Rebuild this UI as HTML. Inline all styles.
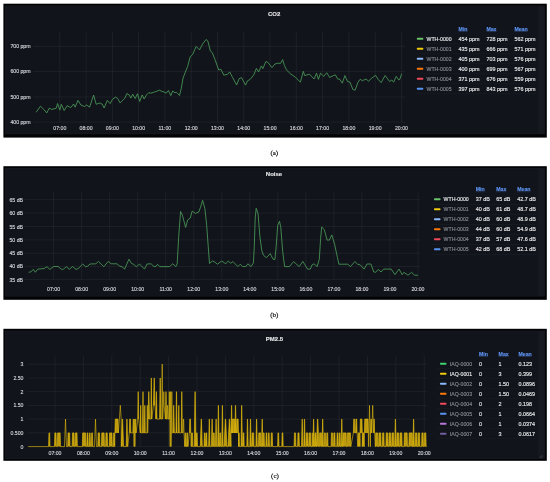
<!DOCTYPE html>
<html><head><meta charset="utf-8"><title>Sensor panels</title>
<style>html,body{margin:0;padding:0;background:#fff}svg{display:block;filter:blur(0.35px)}text{white-space:pre;stroke:currentColor;stroke-width:0.14px;paint-order:stroke fill}</style>
</head><body>
<svg width="550" height="482" viewBox="0 0 550 482">
<rect width="550" height="482" fill="#fff"/>
<rect x="3.4" y="3.7" width="543.4" height="133.9" fill="#020305"/>
<rect x="5.6" y="5.9" width="539.0" height="128.0" fill="#11141a" stroke="#1d2027" stroke-width="0.6"/>
<rect x="538.1" y="6.2" width="6.2" height="127.4" fill="#161920"/>
<path d="M59.8,32V122.1M86.1,32V122.1M112.4,32V122.1M138.6,32V122.1M164.9,32V122.1M191.2,32V122.1M217.5,32V122.1M243.8,32V122.1M270.0,32V122.1M296.3,32V122.1M322.6,32V122.1M348.9,32V122.1M375.2,32V122.1M401.4,32V122.1M33,46.3H405M33,71.4H405M33,97.0H405M33,122.1H405" stroke="#262a31" stroke-width="0.6" fill="none"/>
<text x="274.2" y="16" fill="#e4e5e8" color="#e4e5e8" font-size="6" font-weight="bold" text-anchor="middle" font-family='"Liberation Sans", sans-serif'>CO2</text>
<text x="30.6" y="48.199999999999996" fill="#d2d3d8" color="#d2d3d8" font-size="5.2" font-weight="normal" text-anchor="end" font-family='"Liberation Sans", sans-serif'>700 ppm</text>
<text x="30.6" y="73.30000000000001" fill="#d2d3d8" color="#d2d3d8" font-size="5.2" font-weight="normal" text-anchor="end" font-family='"Liberation Sans", sans-serif'>600 ppm</text>
<text x="30.6" y="98.9" fill="#d2d3d8" color="#d2d3d8" font-size="5.2" font-weight="normal" text-anchor="end" font-family='"Liberation Sans", sans-serif'>500 ppm</text>
<text x="30.6" y="124.0" fill="#d2d3d8" color="#d2d3d8" font-size="5.2" font-weight="normal" text-anchor="end" font-family='"Liberation Sans", sans-serif'>400 ppm</text>
<text x="59.8" y="130.2" fill="#d2d3d8" color="#d2d3d8" font-size="5.2" font-weight="normal" text-anchor="middle" font-family='"Liberation Sans", sans-serif'>07:00</text>
<text x="86.08" y="130.2" fill="#d2d3d8" color="#d2d3d8" font-size="5.2" font-weight="normal" text-anchor="middle" font-family='"Liberation Sans", sans-serif'>08:00</text>
<text x="112.36" y="130.2" fill="#d2d3d8" color="#d2d3d8" font-size="5.2" font-weight="normal" text-anchor="middle" font-family='"Liberation Sans", sans-serif'>09:00</text>
<text x="138.64" y="130.2" fill="#d2d3d8" color="#d2d3d8" font-size="5.2" font-weight="normal" text-anchor="middle" font-family='"Liberation Sans", sans-serif'>10:00</text>
<text x="164.92000000000002" y="130.2" fill="#d2d3d8" color="#d2d3d8" font-size="5.2" font-weight="normal" text-anchor="middle" font-family='"Liberation Sans", sans-serif'>11:00</text>
<text x="191.2" y="130.2" fill="#d2d3d8" color="#d2d3d8" font-size="5.2" font-weight="normal" text-anchor="middle" font-family='"Liberation Sans", sans-serif'>12:00</text>
<text x="217.48000000000002" y="130.2" fill="#d2d3d8" color="#d2d3d8" font-size="5.2" font-weight="normal" text-anchor="middle" font-family='"Liberation Sans", sans-serif'>13:00</text>
<text x="243.76" y="130.2" fill="#d2d3d8" color="#d2d3d8" font-size="5.2" font-weight="normal" text-anchor="middle" font-family='"Liberation Sans", sans-serif'>14:00</text>
<text x="270.04" y="130.2" fill="#d2d3d8" color="#d2d3d8" font-size="5.2" font-weight="normal" text-anchor="middle" font-family='"Liberation Sans", sans-serif'>15:00</text>
<text x="296.32" y="130.2" fill="#d2d3d8" color="#d2d3d8" font-size="5.2" font-weight="normal" text-anchor="middle" font-family='"Liberation Sans", sans-serif'>16:00</text>
<text x="322.6" y="130.2" fill="#d2d3d8" color="#d2d3d8" font-size="5.2" font-weight="normal" text-anchor="middle" font-family='"Liberation Sans", sans-serif'>17:00</text>
<text x="348.88000000000005" y="130.2" fill="#d2d3d8" color="#d2d3d8" font-size="5.2" font-weight="normal" text-anchor="middle" font-family='"Liberation Sans", sans-serif'>18:00</text>
<text x="375.16" y="130.2" fill="#d2d3d8" color="#d2d3d8" font-size="5.2" font-weight="normal" text-anchor="middle" font-family='"Liberation Sans", sans-serif'>19:00</text>
<text x="401.44" y="130.2" fill="#d2d3d8" color="#d2d3d8" font-size="5.2" font-weight="normal" text-anchor="middle" font-family='"Liberation Sans", sans-serif'>20:00</text>
<path d="M36.1,112.3 L40.5,106.2 L43.8,109.4 L46.7,113.0 L49.2,108.2 L51.8,109.4 L56.2,108.3 L57.6,103.5 L59.8,110.1 L61.3,104.3 L64.2,110.5 L67.1,105.7 L70.7,107.6 L73.6,104.0 L75.1,107.2 L78.0,100.3 L80.9,105.0 L84.5,106.5 L86.7,105.0 L89.6,107.2 L93.6,95.1 L96.2,104.3 L99.1,103.1 L100.5,103.3 L102.2,104.1 L104.1,108.0 L107.3,100.4 L110.2,103.6 L112.4,99.3 L115.7,97.1 L117.7,98.5 L120.1,102.9 L123.3,99.6 L124.7,98.5 L126.9,93.5 L129.1,94.9 L130.8,98.1 L132.7,94.2 L135.2,98.5 L137.5,93.7 L139.7,101.5 L142.2,94.9 L144.1,99.0 L146.5,94.9 L148.7,92.7 L150.9,93.2 L154.5,92.0 L156.7,91.3 L159.3,90.1 L161.8,91.3 L164.0,92.0 L166.2,93.2 L168.4,90.5 L170.8,95.6 L172.7,91.0 L174.9,92.7 L176.4,92.3 L179.5,95.5 L181.3,88.2 L183.1,78.0 L185.3,72.2 L187.7,66.4 L190.1,56.9 L192.5,54.7 L196.2,46.4 L199.5,49.9 L202.7,43.8 L206.1,39.5 L207.8,40.9 L210.4,51.1 L212.2,52.5 L215.1,59.8 L218.7,70.0 L220.9,69.3 L223.8,75.1 L227.5,74.4 L229.6,71.9 L232.5,77.3 L236.6,85.0 L239.1,78.7 L241.5,77.6 L245.5,85.1 L247.6,80.7 L249.9,79.6 L253.8,74.9 L256.4,68.4 L258.6,72.0 L261.4,65.9 L262.8,68.7 L265.9,61.5 L267.6,62.1 L272.0,67.6 L274.9,64.0 L277.5,63.3 L280.7,63.3 L282.6,59.6 L284.4,65.5 L286.5,69.8 L290.2,73.7 L295.3,77.1 L300.4,82.2 L303.3,71.3 L304.7,75.6 L309.5,74.2 L314.1,79.0 L316.5,73.2 L318.4,79.3 L320.5,73.2 L323.8,76.4 L326.7,72.7 L329.6,77.5 L333.3,75.6 L335.5,74.9 L337.6,79.0 L339.8,79.3 L342.3,83.2 L344.9,75.6 L347.5,81.5 L350.0,82.2 L352.9,89.5 L355.1,90.2 L358.0,82.2 L360.2,79.3 L362.4,80.7 L366.0,79.0 L368.6,81.2 L371.8,78.1 L375.5,75.3 L378.1,79.3 L381.1,82.6 L385.1,75.5 L387.8,79.0 L389.6,81.5 L391.8,80.0 L393.6,82.2 L396.2,76.4 L398.8,80.0 L399.8,79.3 L401.7,73.7" stroke="#4a9a58" stroke-width="0.85" fill="none" stroke-linejoin="round"/>
<text x="458.6" y="30.8" fill="#5f95f6" color="#5f95f6" font-size="5.2" font-weight="bold" text-anchor="start" font-family='"Liberation Sans", sans-serif'>Min</text>
<rect x="458.6" y="31.5" width="9.0" height="0.5" fill="#5f95f6" opacity="0.45"/>
<text x="486.4" y="30.8" fill="#5f95f6" color="#5f95f6" font-size="5.2" font-weight="bold" text-anchor="start" font-family='"Liberation Sans", sans-serif'>Max</text>
<rect x="486.4" y="31.5" width="10.2" height="0.5" fill="#5f95f6" opacity="0.45"/>
<text x="514.4" y="30.8" fill="#5f95f6" color="#5f95f6" font-size="5.2" font-weight="bold" text-anchor="start" font-family='"Liberation Sans", sans-serif'>Mean</text>
<rect x="514.4" y="31.5" width="13.3" height="0.5" fill="#5f95f6" opacity="0.45"/>
<rect x="413.8" y="43.599999999999994" width="123.7" height="0.5" fill="#1c2028"/>
<rect x="416.8" y="37.8" width="6.5" height="2" rx="0.8" fill="#69c46a"/>
<text x="426.5" y="40.599999999999994" fill="#e6e7ea" color="#e6e7ea" font-size="5.2" font-weight="normal" text-anchor="start" font-family='"Liberation Sans", sans-serif'>WTH-0000</text>
<text x="458.6" y="40.599999999999994" fill="#e8e9ec" color="#e8e9ec" font-size="5.4" font-weight="normal" text-anchor="start" font-family='"Liberation Sans", sans-serif'>454 ppm</text>
<text x="486.4" y="40.599999999999994" fill="#e8e9ec" color="#e8e9ec" font-size="5.4" font-weight="normal" text-anchor="start" font-family='"Liberation Sans", sans-serif'>728 ppm</text>
<text x="514.4" y="40.599999999999994" fill="#e8e9ec" color="#e8e9ec" font-size="5.4" font-weight="normal" text-anchor="start" font-family='"Liberation Sans", sans-serif'>562 ppm</text>
<rect x="413.8" y="53.599999999999994" width="123.7" height="0.5" fill="#1c2028"/>
<rect x="416.8" y="47.8" width="6.5" height="2" rx="0.8" fill="#f2cc0c"/>
<text x="426.5" y="50.599999999999994" fill="#858992" color="#858992" font-size="5.2" font-weight="normal" text-anchor="start" font-family='"Liberation Sans", sans-serif'>WTH-0001</text>
<text x="458.6" y="50.599999999999994" fill="#e8e9ec" color="#e8e9ec" font-size="5.4" font-weight="normal" text-anchor="start" font-family='"Liberation Sans", sans-serif'>435 ppm</text>
<text x="486.4" y="50.599999999999994" fill="#e8e9ec" color="#e8e9ec" font-size="5.4" font-weight="normal" text-anchor="start" font-family='"Liberation Sans", sans-serif'>666 ppm</text>
<text x="514.4" y="50.599999999999994" fill="#e8e9ec" color="#e8e9ec" font-size="5.4" font-weight="normal" text-anchor="start" font-family='"Liberation Sans", sans-serif'>571 ppm</text>
<rect x="413.8" y="63.599999999999994" width="123.7" height="0.5" fill="#1c2028"/>
<rect x="416.8" y="57.8" width="6.5" height="2" rx="0.8" fill="#8ab8ff"/>
<text x="426.5" y="60.599999999999994" fill="#858992" color="#858992" font-size="5.2" font-weight="normal" text-anchor="start" font-family='"Liberation Sans", sans-serif'>WTH-0002</text>
<text x="458.6" y="60.599999999999994" fill="#e8e9ec" color="#e8e9ec" font-size="5.4" font-weight="normal" text-anchor="start" font-family='"Liberation Sans", sans-serif'>405 ppm</text>
<text x="486.4" y="60.599999999999994" fill="#e8e9ec" color="#e8e9ec" font-size="5.4" font-weight="normal" text-anchor="start" font-family='"Liberation Sans", sans-serif'>703 ppm</text>
<text x="514.4" y="60.599999999999994" fill="#e8e9ec" color="#e8e9ec" font-size="5.4" font-weight="normal" text-anchor="start" font-family='"Liberation Sans", sans-serif'>576 ppm</text>
<rect x="413.8" y="73.6" width="123.7" height="0.5" fill="#1c2028"/>
<rect x="416.8" y="67.8" width="6.5" height="2" rx="0.8" fill="#ff780a"/>
<text x="426.5" y="70.6" fill="#858992" color="#858992" font-size="5.2" font-weight="normal" text-anchor="start" font-family='"Liberation Sans", sans-serif'>WTH-0003</text>
<text x="458.6" y="70.6" fill="#e8e9ec" color="#e8e9ec" font-size="5.4" font-weight="normal" text-anchor="start" font-family='"Liberation Sans", sans-serif'>400 ppm</text>
<text x="486.4" y="70.6" fill="#e8e9ec" color="#e8e9ec" font-size="5.4" font-weight="normal" text-anchor="start" font-family='"Liberation Sans", sans-serif'>699 ppm</text>
<text x="514.4" y="70.6" fill="#e8e9ec" color="#e8e9ec" font-size="5.4" font-weight="normal" text-anchor="start" font-family='"Liberation Sans", sans-serif'>567 ppm</text>
<rect x="413.8" y="83.6" width="123.7" height="0.5" fill="#1c2028"/>
<rect x="416.8" y="77.8" width="6.5" height="2" rx="0.8" fill="#f2495c"/>
<text x="426.5" y="80.6" fill="#858992" color="#858992" font-size="5.2" font-weight="normal" text-anchor="start" font-family='"Liberation Sans", sans-serif'>WTH-0004</text>
<text x="458.6" y="80.6" fill="#e8e9ec" color="#e8e9ec" font-size="5.4" font-weight="normal" text-anchor="start" font-family='"Liberation Sans", sans-serif'>371 ppm</text>
<text x="486.4" y="80.6" fill="#e8e9ec" color="#e8e9ec" font-size="5.4" font-weight="normal" text-anchor="start" font-family='"Liberation Sans", sans-serif'>676 ppm</text>
<text x="514.4" y="80.6" fill="#e8e9ec" color="#e8e9ec" font-size="5.4" font-weight="normal" text-anchor="start" font-family='"Liberation Sans", sans-serif'>559 ppm</text>
<rect x="413.8" y="93.6" width="123.7" height="0.5" fill="#1c2028"/>
<rect x="416.8" y="87.8" width="6.5" height="2" rx="0.8" fill="#5794f2"/>
<text x="426.5" y="90.6" fill="#858992" color="#858992" font-size="5.2" font-weight="normal" text-anchor="start" font-family='"Liberation Sans", sans-serif'>WTH-0005</text>
<text x="458.6" y="90.6" fill="#e8e9ec" color="#e8e9ec" font-size="5.4" font-weight="normal" text-anchor="start" font-family='"Liberation Sans", sans-serif'>397 ppm</text>
<text x="486.4" y="90.6" fill="#e8e9ec" color="#e8e9ec" font-size="5.4" font-weight="normal" text-anchor="start" font-family='"Liberation Sans", sans-serif'>843 ppm</text>
<text x="514.4" y="90.6" fill="#e8e9ec" color="#e8e9ec" font-size="5.4" font-weight="normal" text-anchor="start" font-family='"Liberation Sans", sans-serif'>576 ppm</text>
<text x="274.3" y="154.6" fill="#000" color="#000" font-size="7" font-weight="normal" text-anchor="middle" font-family='"Liberation Serif", serif'>(a)</text>
<rect x="3.4" y="166.2" width="543.4" height="133.6" fill="#020305"/>
<rect x="5.6" y="168.39999999999998" width="539.0" height="127.7" fill="#11141a" stroke="#1d2027" stroke-width="0.6"/>
<rect x="538.1" y="168.7" width="6.2" height="127.1" fill="#161920"/>
<path d="M53.6,191.8V279.6M81.6,191.8V279.6M109.7,191.8V279.6M137.7,191.8V279.6M165.7,191.8V279.6M193.8,191.8V279.6M221.8,191.8V279.6M249.8,191.8V279.6M277.8,191.8V279.6M305.9,191.8V279.6M333.9,191.8V279.6M361.9,191.8V279.6M390.0,191.8V279.6M418.0,191.8V279.6M24.2,199.7H420.5M24.2,213.1H420.5M24.2,226.6H420.5M24.2,239.9H420.5M24.2,253.2H420.5M24.2,266.4H420.5M24.2,279.6H420.5" stroke="#262a31" stroke-width="0.6" fill="none"/>
<text x="274" y="176.4" fill="#e4e5e8" color="#e4e5e8" font-size="6" font-weight="bold" text-anchor="middle" font-family='"Liberation Sans", sans-serif'>Noise</text>
<text x="23" y="201.6" fill="#d2d3d8" color="#d2d3d8" font-size="5.2" font-weight="normal" text-anchor="end" font-family='"Liberation Sans", sans-serif'>65 dB</text>
<text x="23" y="215.0" fill="#d2d3d8" color="#d2d3d8" font-size="5.2" font-weight="normal" text-anchor="end" font-family='"Liberation Sans", sans-serif'>60 dB</text>
<text x="23" y="228.5" fill="#d2d3d8" color="#d2d3d8" font-size="5.2" font-weight="normal" text-anchor="end" font-family='"Liberation Sans", sans-serif'>55 dB</text>
<text x="23" y="241.8" fill="#d2d3d8" color="#d2d3d8" font-size="5.2" font-weight="normal" text-anchor="end" font-family='"Liberation Sans", sans-serif'>50 dB</text>
<text x="23" y="255.1" fill="#d2d3d8" color="#d2d3d8" font-size="5.2" font-weight="normal" text-anchor="end" font-family='"Liberation Sans", sans-serif'>45 dB</text>
<text x="23" y="268.29999999999995" fill="#d2d3d8" color="#d2d3d8" font-size="5.2" font-weight="normal" text-anchor="end" font-family='"Liberation Sans", sans-serif'>40 dB</text>
<text x="23" y="281.5" fill="#d2d3d8" color="#d2d3d8" font-size="5.2" font-weight="normal" text-anchor="end" font-family='"Liberation Sans", sans-serif'>35 dB</text>
<text x="53.6" y="290.5" fill="#d2d3d8" color="#d2d3d8" font-size="5.2" font-weight="normal" text-anchor="middle" font-family='"Liberation Sans", sans-serif'>07:00</text>
<text x="81.63" y="290.5" fill="#d2d3d8" color="#d2d3d8" font-size="5.2" font-weight="normal" text-anchor="middle" font-family='"Liberation Sans", sans-serif'>08:00</text>
<text x="109.66" y="290.5" fill="#d2d3d8" color="#d2d3d8" font-size="5.2" font-weight="normal" text-anchor="middle" font-family='"Liberation Sans", sans-serif'>09:00</text>
<text x="137.69" y="290.5" fill="#d2d3d8" color="#d2d3d8" font-size="5.2" font-weight="normal" text-anchor="middle" font-family='"Liberation Sans", sans-serif'>10:00</text>
<text x="165.72" y="290.5" fill="#d2d3d8" color="#d2d3d8" font-size="5.2" font-weight="normal" text-anchor="middle" font-family='"Liberation Sans", sans-serif'>11:00</text>
<text x="193.75" y="290.5" fill="#d2d3d8" color="#d2d3d8" font-size="5.2" font-weight="normal" text-anchor="middle" font-family='"Liberation Sans", sans-serif'>12:00</text>
<text x="221.78" y="290.5" fill="#d2d3d8" color="#d2d3d8" font-size="5.2" font-weight="normal" text-anchor="middle" font-family='"Liberation Sans", sans-serif'>13:00</text>
<text x="249.81" y="290.5" fill="#d2d3d8" color="#d2d3d8" font-size="5.2" font-weight="normal" text-anchor="middle" font-family='"Liberation Sans", sans-serif'>14:00</text>
<text x="277.84000000000003" y="290.5" fill="#d2d3d8" color="#d2d3d8" font-size="5.2" font-weight="normal" text-anchor="middle" font-family='"Liberation Sans", sans-serif'>15:00</text>
<text x="305.87" y="290.5" fill="#d2d3d8" color="#d2d3d8" font-size="5.2" font-weight="normal" text-anchor="middle" font-family='"Liberation Sans", sans-serif'>16:00</text>
<text x="333.90000000000003" y="290.5" fill="#d2d3d8" color="#d2d3d8" font-size="5.2" font-weight="normal" text-anchor="middle" font-family='"Liberation Sans", sans-serif'>17:00</text>
<text x="361.93000000000006" y="290.5" fill="#d2d3d8" color="#d2d3d8" font-size="5.2" font-weight="normal" text-anchor="middle" font-family='"Liberation Sans", sans-serif'>18:00</text>
<text x="389.96000000000004" y="290.5" fill="#d2d3d8" color="#d2d3d8" font-size="5.2" font-weight="normal" text-anchor="middle" font-family='"Liberation Sans", sans-serif'>19:00</text>
<text x="417.99" y="290.5" fill="#d2d3d8" color="#d2d3d8" font-size="5.2" font-weight="normal" text-anchor="middle" font-family='"Liberation Sans", sans-serif'>20:00</text>
<path d="M28.7,272.3 L30.9,271.8 L33.4,269.4 L35.3,272.3 L37.7,269.1 L44.0,268.6 L46.9,266.7 L49.8,269.4 L53.7,266.5 L58.1,266.5 L61.5,269.4 L63.6,269.1 L66.3,266.7 L69.5,269.4 L72.4,266.5 L76.0,269.4 L78.2,268.6 L82.8,264.0 L85.5,266.7 L87.6,266.2 L90.1,264.0 L95.8,263.8 L98.4,261.4 L103.8,266.7 L108.2,261.4 L111.1,263.8 L116.9,263.8 L119.8,266.2 L122.0,266.7 L124.6,269.1 L129.0,259.2 L131.5,263.5 L133.6,264.3 L136.3,266.7 L139.5,264.0 L144.5,269.1 L147.0,264.0 L151.1,263.8 L154.0,266.7 L156.2,266.2 L157.6,264.3 L159.8,266.7 L169.7,266.6 L172.7,263.8 L175.9,266.6 L177.2,263.8 L178.7,236.7 L180.6,211.5 L182.4,215.2 L185.6,227.4 L187.7,219.9 L190.3,218.0 L192.1,211.1 L195.5,213.4 L198.7,212.1 L200.7,206.8 L202.6,200.3 L204.9,208.7 L206.7,225.5 L208.2,246.1 L209.5,263.5 L212.3,261.0 L214.2,261.6 L217.4,264.2 L221.7,261.0 L225.8,263.8 L228.2,261.0 L230.7,263.3 L232.9,261.6 L237.9,266.6 L240.3,264.2 L242.7,266.6 L245.9,266.6 L247.8,263.8 L251.1,266.6 L253.4,262.9 L254.3,246.1 L255.2,218.0 L256.2,208.3 L258.0,213.4 L259.9,236.7 L261.8,250.7 L263.6,255.4 L266.4,257.7 L270.2,253.6 L273.0,259.2 L274.9,259.5 L276.2,246.1 L277.7,225.5 L279.5,221.2 L280.8,227.4 L282.7,251.7 L284.6,266.6 L289.4,266.6 L293.6,261.6 L299.2,266.6 L302.9,261.4 L307.5,269.1 L310.3,269.1 L312.1,264.8 L314.0,263.8 L317.2,266.6 L319.3,259.2 L320.6,238.6 L321.7,227.0 L324.3,229.6 L327.1,240.1 L329.3,240.1 L331.8,234.9 L334.6,244.2 L337.4,257.3 L338.9,264.2 L347.7,264.2 L350.5,266.6 L354.8,261.6 L357.6,264.2 L360.2,264.8 L364.1,269.1 L367.0,264.0 L370.9,264.0 L373.8,272.0 L375.7,272.3 L378.2,269.4 L381.1,272.0 L383.6,269.1 L391.3,269.1 L394.9,274.7 L399.0,269.1 L402.2,274.7 L403.9,272.3 L408.0,275.2 L411.6,272.3 L414.5,275.2 L417.9,275.2" stroke="#4a9a58" stroke-width="0.85" fill="none" stroke-linejoin="round"/>
<text x="475.7" y="190.9" fill="#5f95f6" color="#5f95f6" font-size="5.2" font-weight="bold" text-anchor="start" font-family='"Liberation Sans", sans-serif'>Min</text>
<rect x="475.7" y="191.6" width="9.0" height="0.5" fill="#5f95f6" opacity="0.45"/>
<text x="496.2" y="190.9" fill="#5f95f6" color="#5f95f6" font-size="5.2" font-weight="bold" text-anchor="start" font-family='"Liberation Sans", sans-serif'>Max</text>
<rect x="496.2" y="191.6" width="10.2" height="0.5" fill="#5f95f6" opacity="0.45"/>
<text x="517.2" y="190.9" fill="#5f95f6" color="#5f95f6" font-size="5.2" font-weight="bold" text-anchor="start" font-family='"Liberation Sans", sans-serif'>Mean</text>
<rect x="517.2" y="191.6" width="13.3" height="0.5" fill="#5f95f6" opacity="0.45"/>
<rect x="431" y="204.0" width="106.5" height="0.5" fill="#1c2028"/>
<rect x="434" y="198.2" width="6.5" height="2" rx="0.8" fill="#69c46a"/>
<text x="443.6" y="201.0" fill="#e6e7ea" color="#e6e7ea" font-size="5.2" font-weight="normal" text-anchor="start" font-family='"Liberation Sans", sans-serif'>WTH-0000</text>
<text x="475.7" y="201.0" fill="#e8e9ec" color="#e8e9ec" font-size="5.4" font-weight="normal" text-anchor="start" font-family='"Liberation Sans", sans-serif'>37 dB</text>
<text x="496.2" y="201.0" fill="#e8e9ec" color="#e8e9ec" font-size="5.4" font-weight="normal" text-anchor="start" font-family='"Liberation Sans", sans-serif'>65 dB</text>
<text x="517.2" y="201.0" fill="#e8e9ec" color="#e8e9ec" font-size="5.4" font-weight="normal" text-anchor="start" font-family='"Liberation Sans", sans-serif'>42.7 dB</text>
<rect x="431" y="214.0" width="106.5" height="0.5" fill="#1c2028"/>
<rect x="434" y="208.2" width="6.5" height="2" rx="0.8" fill="#f2cc0c"/>
<text x="443.6" y="211.0" fill="#858992" color="#858992" font-size="5.2" font-weight="normal" text-anchor="start" font-family='"Liberation Sans", sans-serif'>WTH-0001</text>
<text x="475.7" y="211.0" fill="#e8e9ec" color="#e8e9ec" font-size="5.4" font-weight="normal" text-anchor="start" font-family='"Liberation Sans", sans-serif'>40 dB</text>
<text x="496.2" y="211.0" fill="#e8e9ec" color="#e8e9ec" font-size="5.4" font-weight="normal" text-anchor="start" font-family='"Liberation Sans", sans-serif'>61 dB</text>
<text x="517.2" y="211.0" fill="#e8e9ec" color="#e8e9ec" font-size="5.4" font-weight="normal" text-anchor="start" font-family='"Liberation Sans", sans-serif'>48.7 dB</text>
<rect x="431" y="224.0" width="106.5" height="0.5" fill="#1c2028"/>
<rect x="434" y="218.2" width="6.5" height="2" rx="0.8" fill="#8ab8ff"/>
<text x="443.6" y="221.0" fill="#858992" color="#858992" font-size="5.2" font-weight="normal" text-anchor="start" font-family='"Liberation Sans", sans-serif'>WTH-0002</text>
<text x="475.7" y="221.0" fill="#e8e9ec" color="#e8e9ec" font-size="5.4" font-weight="normal" text-anchor="start" font-family='"Liberation Sans", sans-serif'>40 dB</text>
<text x="496.2" y="221.0" fill="#e8e9ec" color="#e8e9ec" font-size="5.4" font-weight="normal" text-anchor="start" font-family='"Liberation Sans", sans-serif'>60 dB</text>
<text x="517.2" y="221.0" fill="#e8e9ec" color="#e8e9ec" font-size="5.4" font-weight="normal" text-anchor="start" font-family='"Liberation Sans", sans-serif'>48.9 dB</text>
<rect x="431" y="234.0" width="106.5" height="0.5" fill="#1c2028"/>
<rect x="434" y="228.2" width="6.5" height="2" rx="0.8" fill="#ff780a"/>
<text x="443.6" y="231.0" fill="#858992" color="#858992" font-size="5.2" font-weight="normal" text-anchor="start" font-family='"Liberation Sans", sans-serif'>WTH-0003</text>
<text x="475.7" y="231.0" fill="#e8e9ec" color="#e8e9ec" font-size="5.4" font-weight="normal" text-anchor="start" font-family='"Liberation Sans", sans-serif'>44 dB</text>
<text x="496.2" y="231.0" fill="#e8e9ec" color="#e8e9ec" font-size="5.4" font-weight="normal" text-anchor="start" font-family='"Liberation Sans", sans-serif'>60 dB</text>
<text x="517.2" y="231.0" fill="#e8e9ec" color="#e8e9ec" font-size="5.4" font-weight="normal" text-anchor="start" font-family='"Liberation Sans", sans-serif'>54.9 dB</text>
<rect x="431" y="244.0" width="106.5" height="0.5" fill="#1c2028"/>
<rect x="434" y="238.2" width="6.5" height="2" rx="0.8" fill="#f2495c"/>
<text x="443.6" y="241.0" fill="#858992" color="#858992" font-size="5.2" font-weight="normal" text-anchor="start" font-family='"Liberation Sans", sans-serif'>WTH-0004</text>
<text x="475.7" y="241.0" fill="#e8e9ec" color="#e8e9ec" font-size="5.4" font-weight="normal" text-anchor="start" font-family='"Liberation Sans", sans-serif'>37 dB</text>
<text x="496.2" y="241.0" fill="#e8e9ec" color="#e8e9ec" font-size="5.4" font-weight="normal" text-anchor="start" font-family='"Liberation Sans", sans-serif'>57 dB</text>
<text x="517.2" y="241.0" fill="#e8e9ec" color="#e8e9ec" font-size="5.4" font-weight="normal" text-anchor="start" font-family='"Liberation Sans", sans-serif'>47.6 dB</text>
<rect x="431" y="254.0" width="106.5" height="0.5" fill="#1c2028"/>
<rect x="434" y="248.2" width="6.5" height="2" rx="0.8" fill="#5794f2"/>
<text x="443.6" y="251.0" fill="#858992" color="#858992" font-size="5.2" font-weight="normal" text-anchor="start" font-family='"Liberation Sans", sans-serif'>WTH-0005</text>
<text x="475.7" y="251.0" fill="#e8e9ec" color="#e8e9ec" font-size="5.4" font-weight="normal" text-anchor="start" font-family='"Liberation Sans", sans-serif'>42 dB</text>
<text x="496.2" y="251.0" fill="#e8e9ec" color="#e8e9ec" font-size="5.4" font-weight="normal" text-anchor="start" font-family='"Liberation Sans", sans-serif'>68 dB</text>
<text x="517.2" y="251.0" fill="#e8e9ec" color="#e8e9ec" font-size="5.4" font-weight="normal" text-anchor="start" font-family='"Liberation Sans", sans-serif'>52.1 dB</text>
<text x="274.3" y="317" fill="#000" color="#000" font-size="7" font-weight="normal" text-anchor="middle" font-family='"Liberation Serif", serif'>(b)</text>
<rect x="3.4" y="328.8" width="543.4" height="132.0" fill="#020305"/>
<rect x="5.6" y="331.0" width="539.0" height="127.5" fill="#11141a" stroke="#1d2027" stroke-width="0.6"/>
<rect x="538.1" y="331.3" width="6.2" height="126.9" fill="#161920"/>
<path d="M539.5,458L542.5,455M541,458L542.5,456.5" stroke="#5a5e66" stroke-width="0.5" fill="none"/>
<path d="M55.0,356V446.6M83.4,356V446.6M111.8,356V446.6M140.2,356V446.6M168.6,356V446.6M197.0,356V446.6M225.4,356V446.6M253.8,356V446.6M282.2,356V446.6M310.6,356V446.6M339.0,356V446.6M367.4,356V446.6M395.8,356V446.6M424.2,356V446.6M27.4,364.2H427M27.4,378.0H427M27.4,391.7H427M27.4,405.4H427M27.4,419.1H427M27.4,432.9H427M27.4,446.6H427" stroke="#262a31" stroke-width="0.6" fill="none"/>
<text x="274.5" y="340.8" fill="#e4e5e8" color="#e4e5e8" font-size="6" font-weight="bold" text-anchor="middle" font-family='"Liberation Sans", sans-serif'>PM2.5</text>
<text x="23.5" y="366.12" fill="#d2d3d8" color="#d2d3d8" font-size="5.2" font-weight="normal" text-anchor="end" font-family='"Liberation Sans", sans-serif'>3</text>
<text x="23.5" y="379.85" fill="#d2d3d8" color="#d2d3d8" font-size="5.2" font-weight="normal" text-anchor="end" font-family='"Liberation Sans", sans-serif'>2.50</text>
<text x="23.5" y="393.58" fill="#d2d3d8" color="#d2d3d8" font-size="5.2" font-weight="normal" text-anchor="end" font-family='"Liberation Sans", sans-serif'>2</text>
<text x="23.5" y="407.31" fill="#d2d3d8" color="#d2d3d8" font-size="5.2" font-weight="normal" text-anchor="end" font-family='"Liberation Sans", sans-serif'>1.50</text>
<text x="23.5" y="421.04" fill="#d2d3d8" color="#d2d3d8" font-size="5.2" font-weight="normal" text-anchor="end" font-family='"Liberation Sans", sans-serif'>1</text>
<text x="23.5" y="434.77" fill="#d2d3d8" color="#d2d3d8" font-size="5.2" font-weight="normal" text-anchor="end" font-family='"Liberation Sans", sans-serif'>0.500</text>
<text x="23.5" y="448.5" fill="#d2d3d8" color="#d2d3d8" font-size="5.2" font-weight="normal" text-anchor="end" font-family='"Liberation Sans", sans-serif'>0</text>
<text x="55.0" y="455.1" fill="#d2d3d8" color="#d2d3d8" font-size="5.2" font-weight="normal" text-anchor="middle" font-family='"Liberation Sans", sans-serif'>07:00</text>
<text x="83.4" y="455.1" fill="#d2d3d8" color="#d2d3d8" font-size="5.2" font-weight="normal" text-anchor="middle" font-family='"Liberation Sans", sans-serif'>08:00</text>
<text x="111.8" y="455.1" fill="#d2d3d8" color="#d2d3d8" font-size="5.2" font-weight="normal" text-anchor="middle" font-family='"Liberation Sans", sans-serif'>09:00</text>
<text x="140.2" y="455.1" fill="#d2d3d8" color="#d2d3d8" font-size="5.2" font-weight="normal" text-anchor="middle" font-family='"Liberation Sans", sans-serif'>10:00</text>
<text x="168.6" y="455.1" fill="#d2d3d8" color="#d2d3d8" font-size="5.2" font-weight="normal" text-anchor="middle" font-family='"Liberation Sans", sans-serif'>11:00</text>
<text x="197.0" y="455.1" fill="#d2d3d8" color="#d2d3d8" font-size="5.2" font-weight="normal" text-anchor="middle" font-family='"Liberation Sans", sans-serif'>12:00</text>
<text x="225.39999999999998" y="455.1" fill="#d2d3d8" color="#d2d3d8" font-size="5.2" font-weight="normal" text-anchor="middle" font-family='"Liberation Sans", sans-serif'>13:00</text>
<text x="253.79999999999998" y="455.1" fill="#d2d3d8" color="#d2d3d8" font-size="5.2" font-weight="normal" text-anchor="middle" font-family='"Liberation Sans", sans-serif'>14:00</text>
<text x="282.2" y="455.1" fill="#d2d3d8" color="#d2d3d8" font-size="5.2" font-weight="normal" text-anchor="middle" font-family='"Liberation Sans", sans-serif'>15:00</text>
<text x="310.6" y="455.1" fill="#d2d3d8" color="#d2d3d8" font-size="5.2" font-weight="normal" text-anchor="middle" font-family='"Liberation Sans", sans-serif'>16:00</text>
<text x="339.0" y="455.1" fill="#d2d3d8" color="#d2d3d8" font-size="5.2" font-weight="normal" text-anchor="middle" font-family='"Liberation Sans", sans-serif'>17:00</text>
<text x="367.4" y="455.1" fill="#d2d3d8" color="#d2d3d8" font-size="5.2" font-weight="normal" text-anchor="middle" font-family='"Liberation Sans", sans-serif'>18:00</text>
<text x="395.79999999999995" y="455.1" fill="#d2d3d8" color="#d2d3d8" font-size="5.2" font-weight="normal" text-anchor="middle" font-family='"Liberation Sans", sans-serif'>19:00</text>
<text x="424.2" y="455.1" fill="#d2d3d8" color="#d2d3d8" font-size="5.2" font-weight="normal" text-anchor="middle" font-family='"Liberation Sans", sans-serif'>20:00</text>
<path d="M48.60,446.6L48.95,432.9H49.65L50.00,446.6ZM54.50,446.6L54.85,432.9H56.05L56.40,446.6ZM57.30,446.6L57.65,432.9H60.15L60.50,446.6ZM67.70,446.6L68.05,432.9H69.65L70.00,446.6ZM72.15,446.6L72.50,432.9H74.05L74.40,446.6ZM75.10,446.6L75.45,432.9H77.00L77.35,446.6ZM82.30,446.6L82.65,432.9H85.55L85.90,446.6ZM86.80,446.6L87.15,432.9H87.85L88.20,446.6ZM89.10,446.6L89.45,432.9H90.15L90.50,446.6ZM91.30,446.6L91.65,432.9H92.45L92.80,446.6ZM97.80,446.6L98.15,432.9H99.55L99.90,446.6ZM101.40,446.6L101.75,432.9H104.15L104.50,446.6ZM105.60,446.6L105.95,432.9H107.25L107.60,446.6ZM109.20,446.6L109.55,432.9H111.95L112.30,446.6ZM113.30,446.6L113.65,432.9H114.35L114.70,446.6ZM114.90,432.9L115.25,419.1H118.05L118.40,432.9ZM121.30,446.6L122.31,419.1H122.59L123.60,446.6ZM126.20,446.6L126.86,419.1H127.04L127.70,446.6ZM129.30,432.9L129.65,419.1H130.45L130.80,432.9ZM132.84,432.9L133.19,419.1H133.42L133.77,432.9ZM135.23,432.9L135.58,419.1H135.81L136.16,432.9ZM137.73,419.1L138.14,391.7H138.26L138.66,419.1ZM140.23,432.9L140.64,405.4H140.76L141.16,432.9ZM142.53,432.9L142.94,391.7H143.06L143.47,432.9ZM144.34,432.9L144.74,405.4H144.86L145.27,432.9ZM148.06,419.1L148.71,391.7H148.89L149.54,419.1ZM150.84,419.1L151.24,378.0H151.36L151.77,419.1ZM153.42,405.4L154.11,378.0H154.29L154.97,405.4ZM155.84,419.1L156.33,391.7H156.47L156.96,419.1ZM159.58,419.1L160.13,378.0H160.27L160.82,419.1ZM165.38,419.1L165.93,391.7H166.07L166.62,419.1ZM168.80,419.1L169.24,391.7H169.36L169.80,419.1ZM173.02,432.9L173.62,405.4H173.78L174.38,432.9ZM175.94,432.9L176.43,391.7H176.57L177.06,432.9ZM178.30,432.9L178.74,405.4H178.86L179.30,432.9ZM181.24,432.9L181.73,391.7H181.87L182.36,432.9ZM184.74,446.6L185.09,432.9H185.51L185.86,446.6ZM186.50,446.6L186.85,432.9H187.65L188.00,446.6ZM189.40,432.9L189.75,419.1H190.45L190.80,432.9ZM191.20,446.6L191.55,432.9H192.45L192.80,446.6ZM194.20,446.6L194.99,391.7H195.21L196.00,446.6ZM196.00,446.6L196.35,432.9H197.15L197.50,446.6ZM200.30,446.6L201.18,419.1H201.42L202.30,446.6ZM204.00,446.6L204.35,432.9H205.05L205.40,446.6ZM205.70,446.6L206.05,432.9H206.75L207.10,446.6ZM208.60,446.6L209.22,419.1H209.38L210.00,446.6ZM211.40,446.6L212.02,419.1H212.18L212.80,446.6ZM213.20,446.6L213.55,432.9H214.25L214.60,446.6ZM215.40,446.6L216.02,419.1H216.18L216.80,446.6ZM217.70,446.6L218.32,405.4H218.48L219.10,446.6ZM219.50,446.6L219.85,432.9H220.55L220.90,446.6ZM221.70,446.6L222.32,405.4H222.48L223.10,446.6ZM224.10,446.6L225.33,419.1H225.67L226.90,446.6ZM228.00,446.6L229.32,419.1H229.68L231.00,446.6ZM231.00,432.9L231.53,405.4H231.67L232.20,432.9ZM232.20,432.9L232.55,419.1H234.45L234.80,432.9ZM234.80,432.9L235.42,405.4H235.58L236.20,432.9ZM236.50,432.9L236.85,419.1H238.15L238.50,432.9ZM238.50,446.6L238.85,432.9H239.15L239.50,446.6ZM241.00,446.6L241.62,405.4H241.78L242.40,446.6ZM242.80,446.6L243.15,432.9H243.85L244.20,446.6ZM246.80,446.6L247.42,419.1H247.58L248.20,446.6ZM249.80,446.6L250.42,419.1H250.58L251.20,446.6ZM251.80,446.6L252.15,432.9H253.65L254.00,446.6ZM255.90,446.6L256.52,419.1H256.68L257.30,446.6ZM258.40,446.6L258.75,432.9H260.65L261.00,446.6ZM261.50,446.6L262.12,419.1H262.28L262.90,446.6ZM263.10,446.6L263.45,432.9H264.15L264.50,446.6ZM265.80,446.6L266.15,432.9H266.85L267.20,446.6ZM268.10,446.6L268.45,432.9H269.15L269.50,446.6ZM270.90,446.6L271.25,432.9H272.25L272.60,446.6ZM277.60,446.6L277.95,432.9H278.65L279.00,446.6ZM281.80,446.6L282.15,432.9H282.85L283.20,446.6ZM294.10,446.6L294.45,432.9H295.55L295.90,446.6ZM297.60,446.6L297.95,432.9H299.05L299.40,446.6ZM301.50,446.6L302.12,419.1H302.28L302.90,446.6ZM303.80,446.6L304.42,419.1H304.58L305.20,446.6ZM305.95,446.6L306.30,432.9H307.75L308.10,446.6ZM308.80,446.6L309.15,432.9H310.60L310.95,446.6ZM312.90,446.6L313.52,419.1H313.68L314.30,446.6ZM314.60,446.6L314.95,432.9H315.85L316.20,446.6ZM316.40,446.6L317.50,419.1H317.80L318.90,446.6ZM319.30,446.6L319.65,432.9H321.45L321.80,446.6ZM322.00,446.6L322.62,419.1H322.78L323.40,446.6ZM324.15,446.6L324.50,432.9H325.40L325.75,446.6ZM326.45,446.6L326.80,432.9H327.70L328.05,446.6ZM331.05,446.6L331.40,432.9H332.45L332.80,446.6ZM333.50,446.6L333.85,432.9H334.90L335.25,446.6ZM336.75,446.6L337.10,432.9H337.90L338.25,446.6ZM338.95,446.6L339.30,432.9H340.10L340.45,446.6ZM341.10,446.6L341.72,419.1H341.88L342.50,446.6ZM342.80,446.6L343.15,432.9H346.15L346.50,446.6ZM347.20,446.6L347.55,432.9H350.45L350.80,446.6ZM353.35,432.9L353.70,419.1H354.50L354.85,432.9ZM355.55,432.9L355.90,419.1H356.70L357.05,432.9ZM357.80,446.6L358.15,432.9H359.65L360.00,446.6ZM360.00,432.9L360.35,419.1H361.95L362.30,432.9ZM362.30,446.6L362.65,432.9H363.85L364.20,446.6ZM364.40,432.9L364.75,419.1H368.05L368.40,432.9ZM370.50,432.9L370.85,419.1H371.45L371.80,432.9ZM373.60,432.9L373.95,419.1H374.25L374.60,432.9ZM375.35,446.6L375.70,432.9H377.55L377.90,446.6ZM378.60,446.6L378.95,432.9H380.80L381.15,446.6ZM382.30,446.6L382.65,432.9H383.85L384.20,446.6ZM385.85,446.6L386.20,432.9H387.73L388.08,446.6ZM388.78,446.6L389.13,432.9H390.67L391.02,446.6ZM391.72,446.6L392.07,432.9H393.60L393.95,446.6ZM394.70,446.6L395.32,419.1H395.48L396.10,446.6ZM396.65,446.6L397.00,432.9H398.70L399.05,446.6ZM399.75,446.6L400.10,432.9H401.80L402.15,446.6ZM404.00,446.6L404.35,432.9H407.15L407.50,446.6ZM408.80,446.6L409.15,432.9H412.25L412.60,446.6ZM412.90,446.6L413.52,419.1H413.68L414.30,446.6ZM415.05,446.6L415.40,432.9H416.80L417.15,446.6ZM417.85,446.6L418.20,432.9H419.60L419.95,446.6ZM421.55,446.6L421.90,432.9H423.15L423.50,446.6ZM424.20,446.6L424.55,432.9H425.80L426.15,446.6Z" fill="#dcb20c" fill-opacity="0.85"/><path d="M28.30,446.6 L48.60,446.6 L48.95,432.9 L49.65,432.9 L50.00,446.6 L54.50,446.6 L54.85,432.9 L56.05,432.9 L56.40,446.6 L57.30,446.6 L57.65,432.9 L60.15,432.9 L60.50,446.6 L64.50,446.6 L65.50,419.1 L66.50,446.6 L67.70,446.6 L68.05,432.9 L69.65,432.9 L70.00,446.6 L72.15,446.6 L72.50,432.9 L74.05,432.9 L74.40,446.6 L75.10,446.6 L75.45,432.9 L77.00,432.9 L77.35,446.6 L82.30,446.6 L82.65,432.9 L85.55,432.9 L85.90,446.6 L86.80,446.6 L87.15,432.9 L87.85,432.9 L88.20,446.6 L89.10,446.6 L89.45,432.9 L90.15,432.9 L90.50,446.6 L91.30,446.6 L91.65,432.9 L92.45,432.9 L92.80,446.6 L94.50,446.6 L95.50,419.1 L96.50,446.6 L97.80,446.6 L98.15,432.9 L99.55,432.9 L99.90,446.6 L101.40,446.6 L101.75,432.9 L104.15,432.9 L104.50,446.6 L105.60,446.6 L105.95,432.9 L107.25,432.9 L107.60,446.6 L109.20,446.6 L109.55,432.9 L111.95,432.9 L112.30,446.6 L113.30,446.6 L113.65,432.9 L114.35,432.9 L114.70,446.6 L114.90,432.9 L115.25,419.1 L118.05,419.1 L118.40,432.9 L119.40,419.1 L120.30,405.4 L121.20,419.1 L121.30,446.6 L122.31,419.1 L122.59,419.1 L123.60,446.6 L126.20,446.6 L126.86,419.1 L127.04,419.1 L127.70,446.6 L129.30,432.9 L129.65,419.1 L130.45,419.1 L130.80,432.9 L132.84,432.9 L133.19,419.1 L133.42,419.1 L133.77,432.9 L134.10,446.6 L134.45,419.1 L134.55,419.1 L134.90,446.6 L135.23,432.9 L135.58,419.1 L135.81,419.1 L136.16,432.9 L137.73,419.1 L138.14,391.7 L138.26,391.7 L138.66,419.1 L140.23,432.9 L140.64,405.4 L140.76,405.4 L141.16,432.9 L142.53,432.9 L142.94,391.7 L143.06,391.7 L143.47,432.9 L144.34,432.9 L144.74,405.4 L144.86,405.4 L145.27,432.9 L146.90,432.9 L147.25,405.4 L147.35,405.4 L147.70,432.9 L148.06,419.1 L148.71,391.7 L148.89,391.7 L149.54,419.1 L150.84,419.1 L151.24,378.0 L151.36,378.0 L151.77,419.1 L153.42,405.4 L154.11,378.0 L154.29,378.0 L154.97,405.4 L155.84,419.1 L156.33,391.7 L156.47,391.7 L156.96,419.1 L159.58,419.1 L160.13,378.0 L160.27,378.0 L160.82,419.1 L161.77,419.1 L162.15,364.2 L162.25,364.2 L162.63,419.1 L163.40,405.4 L163.75,391.7 L163.85,391.7 L164.20,405.4 L165.38,419.1 L165.93,391.7 L166.07,391.7 L166.62,419.1 L167.20,419.1 L167.55,405.4 L167.65,405.4 L168.00,419.1 L168.80,419.1 L169.24,391.7 L169.36,391.7 L169.80,419.1 L170.20,446.6 L170.55,391.7 L170.65,391.7 L171.00,446.6 L171.37,432.9 L171.75,391.7 L171.85,391.7 L172.23,432.9 L173.02,432.9 L173.62,405.4 L173.78,405.4 L174.38,432.9 L175.94,432.9 L176.43,391.7 L176.57,391.7 L177.06,432.9 L178.30,432.9 L178.74,405.4 L178.86,405.4 L179.30,432.9 L181.24,432.9 L181.73,391.7 L181.87,391.7 L182.36,432.9 L183.17,432.9 L183.52,419.1 L183.68,419.1 L184.03,432.9 L184.74,446.6 L185.09,432.9 L185.51,432.9 L185.86,446.6 L186.50,446.6 L186.85,432.9 L187.65,432.9 L188.00,446.6 L189.40,432.9 L189.75,419.1 L190.45,419.1 L190.80,432.9 L191.20,446.6 L191.55,432.9 L192.45,432.9 L192.80,446.6 L194.20,446.6 L194.99,391.7 L195.21,391.7 L196.00,446.6 L196.00,446.6 L196.35,432.9 L197.15,432.9 L197.50,446.6 L200.30,446.6 L201.18,419.1 L201.42,419.1 L202.30,446.6 L204.00,446.6 L204.35,432.9 L205.05,432.9 L205.40,446.6 L205.70,446.6 L206.05,432.9 L206.75,432.9 L207.10,446.6 L208.60,446.6 L209.22,419.1 L209.38,419.1 L210.00,446.6 L211.40,446.6 L212.02,419.1 L212.18,419.1 L212.80,446.6 L213.20,446.6 L213.55,432.9 L214.25,432.9 L214.60,446.6 L215.40,446.6 L216.02,419.1 L216.18,419.1 L216.80,446.6 L217.70,446.6 L218.32,405.4 L218.48,405.4 L219.10,446.6 L219.50,446.6 L219.85,432.9 L220.55,432.9 L220.90,446.6 L221.70,446.6 L222.32,405.4 L222.48,405.4 L223.10,446.6 L224.10,446.6 L225.33,419.1 L225.67,419.1 L226.90,446.6 L228.00,446.6 L229.32,419.1 L229.68,419.1 L231.00,446.6 L231.00,432.9 L231.53,405.4 L231.67,405.4 L232.20,432.9 L232.20,432.9 L232.55,419.1 L234.45,419.1 L234.80,432.9 L234.80,432.9 L235.42,405.4 L235.58,405.4 L236.20,432.9 L236.50,432.9 L236.85,419.1 L238.15,419.1 L238.50,432.9 L238.50,446.6 L238.85,432.9 L239.15,432.9 L239.50,446.6 L241.00,446.6 L241.62,405.4 L241.78,405.4 L242.40,446.6 L242.80,446.6 L243.15,432.9 L243.85,432.9 L244.20,446.6 L246.80,446.6 L247.42,419.1 L247.58,419.1 L248.20,446.6 L249.80,446.6 L250.42,419.1 L250.58,419.1 L251.20,446.6 L251.80,446.6 L252.15,432.9 L253.65,432.9 L254.00,446.6 L255.90,446.6 L256.52,419.1 L256.68,419.1 L257.30,446.6 L258.40,446.6 L258.75,432.9 L260.65,432.9 L261.00,446.6 L261.50,446.6 L262.12,419.1 L262.28,419.1 L262.90,446.6 L263.10,446.6 L263.45,432.9 L264.15,432.9 L264.50,446.6 L265.80,446.6 L266.15,432.9 L266.85,432.9 L267.20,446.6 L268.10,446.6 L268.45,432.9 L269.15,432.9 L269.50,446.6 L270.90,446.6 L271.25,432.9 L272.25,432.9 L272.60,446.6 L277.60,446.6 L277.95,432.9 L278.65,432.9 L279.00,446.6 L281.80,446.6 L282.15,432.9 L282.85,432.9 L283.20,446.6 L294.10,446.6 L294.45,432.9 L295.55,432.9 L295.90,446.6 L297.60,446.6 L297.95,432.9 L299.05,432.9 L299.40,446.6 L301.50,446.6 L302.12,419.1 L302.28,419.1 L302.90,446.6 L303.80,446.6 L304.42,419.1 L304.58,419.1 L305.20,446.6 L305.95,446.6 L306.30,432.9 L307.75,432.9 L308.10,446.6 L308.80,446.6 L309.15,432.9 L310.60,432.9 L310.95,446.6 L312.00,446.6 L312.30,432.9 L312.30,432.9 L312.60,446.6 L312.90,446.6 L313.52,419.1 L313.68,419.1 L314.30,446.6 L314.60,446.6 L314.95,432.9 L315.85,432.9 L316.20,446.6 L316.40,446.6 L317.50,419.1 L317.80,419.1 L318.90,446.6 L319.30,446.6 L319.65,432.9 L321.45,432.9 L321.80,446.6 L322.00,446.6 L322.62,419.1 L322.78,419.1 L323.40,446.6 L324.15,446.6 L324.50,432.9 L325.40,432.9 L325.75,446.6 L326.45,446.6 L326.80,432.9 L327.70,432.9 L328.05,446.6 L331.05,446.6 L331.40,432.9 L332.45,432.9 L332.80,446.6 L333.50,446.6 L333.85,432.9 L334.90,432.9 L335.25,446.6 L336.75,446.6 L337.10,432.9 L337.90,432.9 L338.25,446.6 L338.95,446.6 L339.30,432.9 L340.10,432.9 L340.45,446.6 L341.10,446.6 L341.72,419.1 L341.88,419.1 L342.50,446.6 L342.80,446.6 L343.15,432.9 L346.15,432.9 L346.50,446.6 L347.20,446.6 L347.55,432.9 L350.45,432.9 L350.80,446.6 L353.35,432.9 L353.70,419.1 L354.50,419.1 L354.85,432.9 L355.55,432.9 L355.90,419.1 L356.70,419.1 L357.05,432.9 L357.80,446.6 L358.15,432.9 L359.65,432.9 L360.00,446.6 L360.00,432.9 L360.35,419.1 L361.95,419.1 L362.30,432.9 L362.30,446.6 L362.65,432.9 L363.85,432.9 L364.20,446.6 L364.40,432.9 L364.75,419.1 L368.05,419.1 L368.40,432.9 L368.60,446.6 L369.50,405.4 L370.40,446.6 L370.50,432.9 L370.85,419.1 L371.45,419.1 L371.80,432.9 L371.80,432.9 L372.70,405.4 L373.60,432.9 L373.60,432.9 L373.95,419.1 L374.25,419.1 L374.60,432.9 L375.35,446.6 L375.70,432.9 L377.55,432.9 L377.90,446.6 L378.60,446.6 L378.95,432.9 L380.80,432.9 L381.15,446.6 L382.30,446.6 L382.65,432.9 L383.85,432.9 L384.20,446.6 L385.85,446.6 L386.20,432.9 L387.73,432.9 L388.08,446.6 L388.78,446.6 L389.13,432.9 L390.67,432.9 L391.02,446.6 L391.72,446.6 L392.07,432.9 L393.60,432.9 L393.95,446.6 L394.70,446.6 L395.32,419.1 L395.48,419.1 L396.10,446.6 L396.65,446.6 L397.00,432.9 L398.70,432.9 L399.05,446.6 L399.75,446.6 L400.10,432.9 L401.80,432.9 L402.15,446.6 L404.00,446.6 L404.35,432.9 L407.15,432.9 L407.50,446.6 L408.80,446.6 L409.15,432.9 L412.25,432.9 L412.60,446.6 L412.90,446.6 L413.52,419.1 L413.68,419.1 L414.30,446.6 L415.05,446.6 L415.40,432.9 L416.80,432.9 L417.15,446.6 L417.85,446.6 L418.20,432.9 L419.60,432.9 L419.95,446.6 L421.55,446.6 L421.90,432.9 L423.15,432.9 L423.50,446.6 L424.20,446.6 L424.55,432.9 L425.80,432.9 L426.15,446.6 L426.60,446.6" stroke="#e8c00c" stroke-width="0.6" fill="none" stroke-linejoin="round"/>
<text x="479" y="355.5" fill="#5f95f6" color="#5f95f6" font-size="5.2" font-weight="bold" text-anchor="start" font-family='"Liberation Sans", sans-serif'>Min</text>
<rect x="479" y="356.2" width="9.0" height="0.5" fill="#5f95f6" opacity="0.45"/>
<text x="498.6" y="355.5" fill="#5f95f6" color="#5f95f6" font-size="5.2" font-weight="bold" text-anchor="start" font-family='"Liberation Sans", sans-serif'>Max</text>
<rect x="498.6" y="356.2" width="10.2" height="0.5" fill="#5f95f6" opacity="0.45"/>
<text x="518.5" y="355.5" fill="#5f95f6" color="#5f95f6" font-size="5.2" font-weight="bold" text-anchor="start" font-family='"Liberation Sans", sans-serif'>Mean</text>
<rect x="518.5" y="356.2" width="13.3" height="0.5" fill="#5f95f6" opacity="0.45"/>
<rect x="437" y="368.6" width="100.5" height="0.5" fill="#1c2028"/>
<rect x="440" y="362.8" width="6.5" height="2" rx="0.8" fill="#3fd06f"/>
<text x="449.9" y="365.6" fill="#858992" color="#858992" font-size="5.2" font-weight="normal" text-anchor="start" font-family='"Liberation Sans", sans-serif'>IAQ-0000</text>
<text x="479" y="365.6" fill="#e8e9ec" color="#e8e9ec" font-size="5.4" font-weight="normal" text-anchor="start" font-family='"Liberation Sans", sans-serif'>0</text>
<text x="498.6" y="365.6" fill="#e8e9ec" color="#e8e9ec" font-size="5.4" font-weight="normal" text-anchor="start" font-family='"Liberation Sans", sans-serif'>1</text>
<text x="518.5" y="365.6" fill="#e8e9ec" color="#e8e9ec" font-size="5.4" font-weight="normal" text-anchor="start" font-family='"Liberation Sans", sans-serif'>0.123</text>
<rect x="437" y="378.6" width="100.5" height="0.5" fill="#1c2028"/>
<rect x="440" y="372.8" width="6.5" height="2" rx="0.8" fill="#f2cc0c"/>
<text x="449.9" y="375.6" fill="#e6e7ea" color="#e6e7ea" font-size="5.2" font-weight="normal" text-anchor="start" font-family='"Liberation Sans", sans-serif'>IAQ-0001</text>
<text x="479" y="375.6" fill="#e8e9ec" color="#e8e9ec" font-size="5.4" font-weight="normal" text-anchor="start" font-family='"Liberation Sans", sans-serif'>0</text>
<text x="498.6" y="375.6" fill="#e8e9ec" color="#e8e9ec" font-size="5.4" font-weight="normal" text-anchor="start" font-family='"Liberation Sans", sans-serif'>3</text>
<text x="518.5" y="375.6" fill="#e8e9ec" color="#e8e9ec" font-size="5.4" font-weight="normal" text-anchor="start" font-family='"Liberation Sans", sans-serif'>0.399</text>
<rect x="437" y="388.6" width="100.5" height="0.5" fill="#1c2028"/>
<rect x="440" y="382.8" width="6.5" height="2" rx="0.8" fill="#8ab8ff"/>
<text x="449.9" y="385.6" fill="#858992" color="#858992" font-size="5.2" font-weight="normal" text-anchor="start" font-family='"Liberation Sans", sans-serif'>IAQ-0002</text>
<text x="479" y="385.6" fill="#e8e9ec" color="#e8e9ec" font-size="5.4" font-weight="normal" text-anchor="start" font-family='"Liberation Sans", sans-serif'>0</text>
<text x="498.6" y="385.6" fill="#e8e9ec" color="#e8e9ec" font-size="5.4" font-weight="normal" text-anchor="start" font-family='"Liberation Sans", sans-serif'>1.50</text>
<text x="518.5" y="385.6" fill="#e8e9ec" color="#e8e9ec" font-size="5.4" font-weight="normal" text-anchor="start" font-family='"Liberation Sans", sans-serif'>0.0896</text>
<rect x="437" y="398.6" width="100.5" height="0.5" fill="#1c2028"/>
<rect x="440" y="392.8" width="6.5" height="2" rx="0.8" fill="#ff780a"/>
<text x="449.9" y="395.6" fill="#858992" color="#858992" font-size="5.2" font-weight="normal" text-anchor="start" font-family='"Liberation Sans", sans-serif'>IAQ-0003</text>
<text x="479" y="395.6" fill="#e8e9ec" color="#e8e9ec" font-size="5.4" font-weight="normal" text-anchor="start" font-family='"Liberation Sans", sans-serif'>0</text>
<text x="498.6" y="395.6" fill="#e8e9ec" color="#e8e9ec" font-size="5.4" font-weight="normal" text-anchor="start" font-family='"Liberation Sans", sans-serif'>1.50</text>
<text x="518.5" y="395.6" fill="#e8e9ec" color="#e8e9ec" font-size="5.4" font-weight="normal" text-anchor="start" font-family='"Liberation Sans", sans-serif'>0.0469</text>
<rect x="437" y="408.6" width="100.5" height="0.5" fill="#1c2028"/>
<rect x="440" y="402.8" width="6.5" height="2" rx="0.8" fill="#f2495c"/>
<text x="449.9" y="405.6" fill="#858992" color="#858992" font-size="5.2" font-weight="normal" text-anchor="start" font-family='"Liberation Sans", sans-serif'>IAQ-0004</text>
<text x="479" y="405.6" fill="#e8e9ec" color="#e8e9ec" font-size="5.4" font-weight="normal" text-anchor="start" font-family='"Liberation Sans", sans-serif'>0</text>
<text x="498.6" y="405.6" fill="#e8e9ec" color="#e8e9ec" font-size="5.4" font-weight="normal" text-anchor="start" font-family='"Liberation Sans", sans-serif'>2</text>
<text x="518.5" y="405.6" fill="#e8e9ec" color="#e8e9ec" font-size="5.4" font-weight="normal" text-anchor="start" font-family='"Liberation Sans", sans-serif'>0.198</text>
<rect x="437" y="418.6" width="100.5" height="0.5" fill="#1c2028"/>
<rect x="440" y="412.8" width="6.5" height="2" rx="0.8" fill="#5794f2"/>
<text x="449.9" y="415.6" fill="#858992" color="#858992" font-size="5.2" font-weight="normal" text-anchor="start" font-family='"Liberation Sans", sans-serif'>IAQ-0005</text>
<text x="479" y="415.6" fill="#e8e9ec" color="#e8e9ec" font-size="5.4" font-weight="normal" text-anchor="start" font-family='"Liberation Sans", sans-serif'>0</text>
<text x="498.6" y="415.6" fill="#e8e9ec" color="#e8e9ec" font-size="5.4" font-weight="normal" text-anchor="start" font-family='"Liberation Sans", sans-serif'>1</text>
<text x="518.5" y="415.6" fill="#e8e9ec" color="#e8e9ec" font-size="5.4" font-weight="normal" text-anchor="start" font-family='"Liberation Sans", sans-serif'>0.0664</text>
<rect x="437" y="428.6" width="100.5" height="0.5" fill="#1c2028"/>
<rect x="440" y="422.8" width="6.5" height="2" rx="0.8" fill="#b877d9"/>
<text x="449.9" y="425.6" fill="#858992" color="#858992" font-size="5.2" font-weight="normal" text-anchor="start" font-family='"Liberation Sans", sans-serif'>IAQ-0006</text>
<text x="479" y="425.6" fill="#e8e9ec" color="#e8e9ec" font-size="5.4" font-weight="normal" text-anchor="start" font-family='"Liberation Sans", sans-serif'>0</text>
<text x="498.6" y="425.6" fill="#e8e9ec" color="#e8e9ec" font-size="5.4" font-weight="normal" text-anchor="start" font-family='"Liberation Sans", sans-serif'>1</text>
<text x="518.5" y="425.6" fill="#e8e9ec" color="#e8e9ec" font-size="5.4" font-weight="normal" text-anchor="start" font-family='"Liberation Sans", sans-serif'>0.0374</text>
<rect x="437" y="438.6" width="100.5" height="0.5" fill="#1c2028"/>
<rect x="440" y="432.8" width="6.5" height="2" rx="0.8" fill="#705da0"/>
<text x="449.9" y="435.6" fill="#858992" color="#858992" font-size="5.2" font-weight="normal" text-anchor="start" font-family='"Liberation Sans", sans-serif'>IAQ-0007</text>
<text x="479" y="435.6" fill="#e8e9ec" color="#e8e9ec" font-size="5.4" font-weight="normal" text-anchor="start" font-family='"Liberation Sans", sans-serif'>0</text>
<text x="498.6" y="435.6" fill="#e8e9ec" color="#e8e9ec" font-size="5.4" font-weight="normal" text-anchor="start" font-family='"Liberation Sans", sans-serif'>3</text>
<text x="518.5" y="435.6" fill="#e8e9ec" color="#e8e9ec" font-size="5.4" font-weight="normal" text-anchor="start" font-family='"Liberation Sans", sans-serif'>0.0617</text>
<text x="275" y="477.6" fill="#000" color="#000" font-size="7" font-weight="normal" text-anchor="middle" font-family='"Liberation Serif", serif'>(c)</text>
</svg>
</body></html>
